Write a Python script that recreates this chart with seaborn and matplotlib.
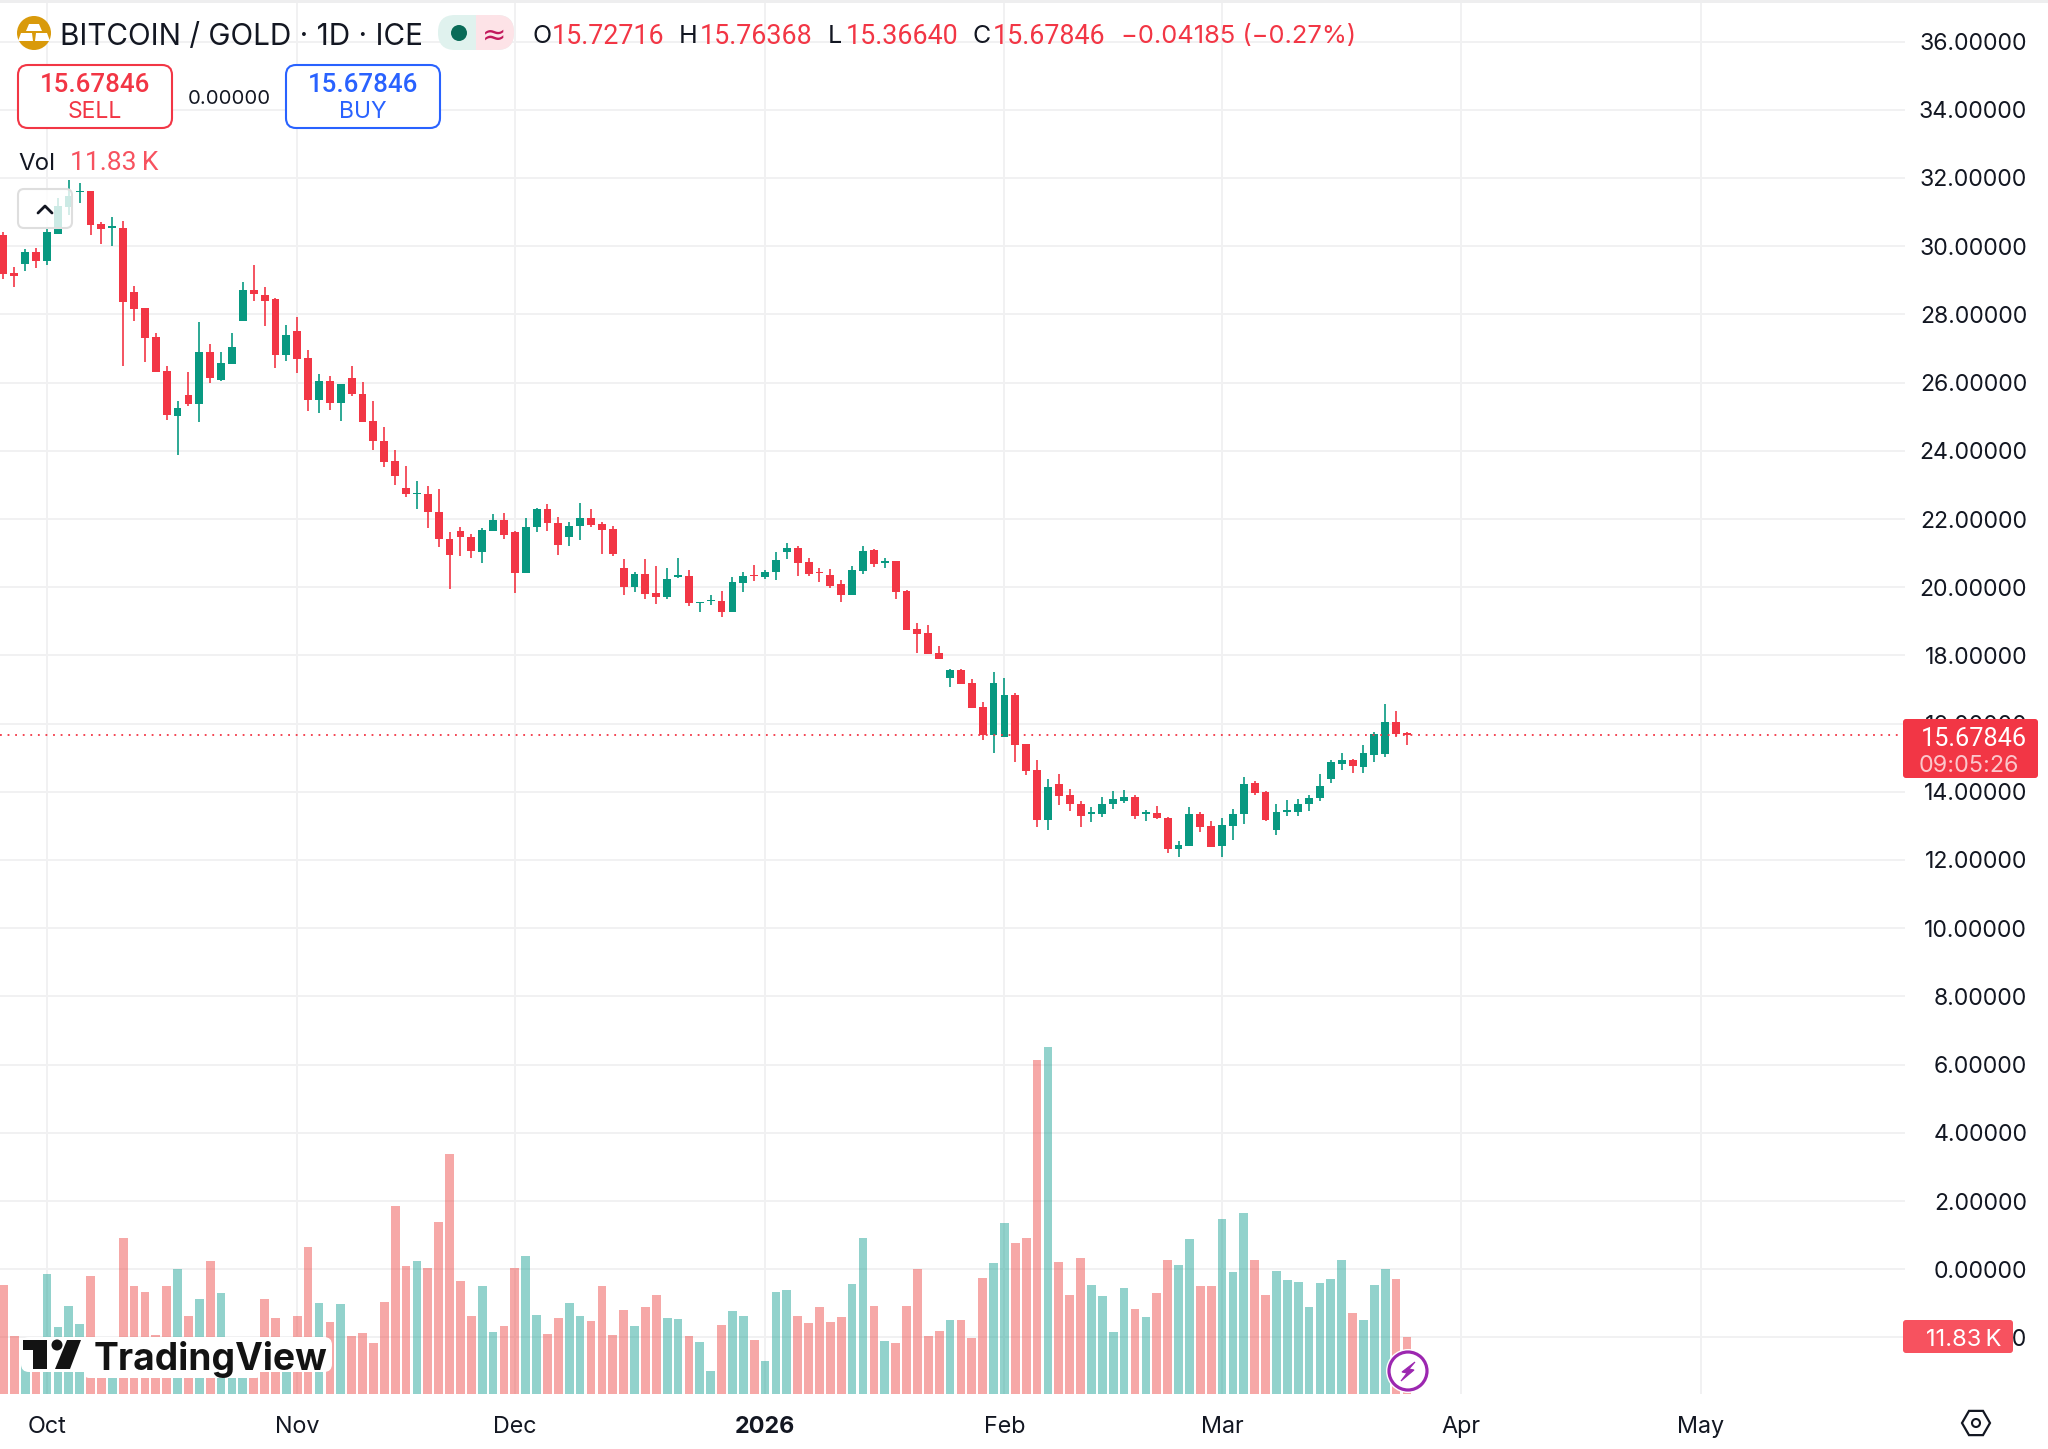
import numpy as np
import pandas as pd
import seaborn as sns
import matplotlib
matplotlib.use("Agg")
import matplotlib.pyplot as plt
from matplotlib.patches import Circle, FancyBboxPatch, Polygon, Rectangle, RegularPolygon
from matplotlib.lines import Line2D
from matplotlib.transforms import Affine2D

# ---- data (weekday sessions; session 0 = 1 Oct 2025) ----
first_session = -4
opens = [30.33,29.20,29.47,29.83,29.58,30.37,31.16,31.58,31.61,30.64,30.54,30.53,28.66,28.18,27.34,26.35,25.01,25.64,25.37,26.89,
26.08,26.54,27.81,28.72,28.58,28.44,26.82,27.51,26.71,25.49,26.05,25.41,26.13,25.68,24.88,24.29,23.70,22.90,22.72,22.73,
22.20,21.40,21.64,21.46,21.03,21.65,21.97,21.61,20.41,21.77,22.28,21.89,21.48,21.79,22.03,21.86,21.70,20.56,20.02,20.40,
19.83,19.72,20.31,20.34,19.54,19.59,19.60,19.28,20.13,20.37,20.29,20.45,21.03,21.16,20.73,20.46,20.36,20.09,19.76,20.48,
21.08,20.70,20.77,19.89,18.76,18.65,18.06,17.34,17.57,17.18,16.48,15.67,15.62,16.84,15.40,14.64,13.17,14.22,13.91,13.64,
13.35,13.35,13.64,13.74,13.85,13.36,13.37,13.24,12.33,12.42,13.35,13.00,12.42,13.01,13.35,14.25,13.99,12.87,13.41,13.41,
13.63,13.83,14.37,14.82,14.92,14.73,15.07,15.10,16.05,15.72716]
closes = [29.19,29.12,29.83,29.58,30.42,31.18,31.48,31.63,30.63,30.49,30.58,28.35,28.17,27.32,26.32,25.06,25.25,25.37,26.89,26.14,
26.57,27.03,28.71,28.59,28.39,26.82,27.40,26.70,25.49,26.05,25.41,25.96,25.67,24.85,24.28,23.68,23.26,22.72,22.76,22.20,
21.40,20.95,21.46,21.06,21.67,21.97,21.54,20.41,21.77,22.28,21.88,21.23,21.80,22.02,21.82,21.69,20.97,20.02,20.40,19.81,
19.72,20.23,20.37,19.53,19.58,19.63,19.28,20.14,20.34,20.33,20.46,20.80,21.15,20.72,20.40,20.41,20.04,19.76,20.50,21.07,
20.69,20.77,19.87,18.74,18.64,18.04,17.90,17.57,17.16,16.45,15.67,17.18,16.84,15.38,14.62,13.17,14.15,13.89,13.64,13.29,
13.40,13.65,13.79,13.85,13.29,13.41,13.24,12.32,12.44,13.34,12.98,12.39,13.03,13.36,14.24,13.96,13.17,13.40,13.46,13.64,
13.82,14.16,14.86,14.92,14.76,15.15,15.69,16.05,15.69,15.67846]
highs = [30.41,29.40,29.91,29.94,30.50,31.40,31.94,31.86,31.63,30.70,30.85,30.75,28.83,28.18,27.45,26.49,25.45,26.32,27.79,27.14,
26.91,27.45,28.94,29.46,28.79,28.47,27.68,27.93,26.95,26.26,26.18,25.96,26.49,26.01,25.47,24.69,24.02,23.55,23.11,22.97,
22.88,21.63,21.76,21.55,21.73,22.14,22.17,21.64,22.04,22.31,22.43,22.06,21.92,22.46,22.28,21.92,21.79,20.82,20.45,20.82,
20.62,20.56,20.87,20.49,19.58,19.76,19.89,20.31,20.45,20.65,20.49,21.02,21.30,21.21,20.85,20.57,20.53,20.20,20.62,21.20,
21.13,20.85,20.77,19.92,18.96,18.88,18.28,17.60,17.60,17.30,16.64,17.51,17.33,16.89,15.40,14.93,14.38,14.52,14.07,13.74,
13.56,13.84,14.01,14.04,13.90,13.46,13.59,13.26,12.56,13.54,13.40,13.13,13.22,13.49,14.44,14.31,14.02,13.65,13.76,13.79,
13.90,14.52,14.93,15.15,14.96,15.37,15.75,16.57,16.36,15.76368]
lows = [29.05,28.81,29.27,29.35,29.46,30.37,30.91,31.28,30.34,30.06,30.00,26.50,27.80,26.61,26.30,24.90,23.88,25.30,24.84,26.00,
26.06,26.54,27.81,28.39,27.66,26.42,26.64,26.27,25.18,25.10,25.21,24.87,25.61,24.84,24.02,23.52,23.01,22.65,22.28,21.74,
21.17,19.94,20.92,20.87,20.72,21.65,21.42,19.84,20.41,21.62,21.65,20.94,21.22,21.39,21.76,20.97,20.92,19.78,19.86,19.66,
19.50,19.66,20.27,19.45,19.28,19.47,19.14,19.28,19.86,20.18,20.23,20.21,20.83,20.32,20.34,20.15,19.98,19.58,19.76,20.40,
20.59,20.57,19.66,18.74,18.08,18.04,17.90,17.08,17.16,16.45,15.52,15.13,15.62,14.87,14.50,12.96,12.88,13.60,13.44,12.96,
13.12,13.27,13.51,13.68,13.21,13.15,13.21,12.21,12.10,12.42,12.83,12.39,12.10,12.59,13.05,13.91,13.14,12.72,13.29,13.29,
13.44,13.74,14.27,14.64,14.55,14.56,14.87,15.01,15.60,15.36640]
volumes = [22.4,12.0,8.05,8.0,24.8,13.8,18.2,14.4,24.4,8.2,8.0,32.3,22.2,21.0,12.2,22.2,25.9,16.0,19.6,27.5,
20.8,8.0,8.3,9.0,19.6,15.6,11.6,16.2,30.3,18.8,14.8,18.6,12.0,12.6,10.5,19.0,38.8,26.5,27.5,26.1,
35.5,49.5,23.3,16.0,22.2,12.8,14.0,26.1,28.5,16.4,12.4,15.6,18.8,16.2,15.0,22.2,12.2,17.3,14.0,18.0,
20.4,15.6,15.4,12.0,10.7,4.7,14.2,17.1,16.0,11.1,6.9,21.0,21.5,16.0,14.6,18.0,14.8,15.8,22.7,32.3,
18.2,10.9,10.6,18.2,25.7,12.0,13.0,15.2,15.2,11.6,23.9,27.1,35.2,31.1,32.3,68.9,71.6,27.3,20.4,28.1,
22.5,20.2,12.8,21.9,17.5,15.8,20.8,27.7,26.7,31.9,22.3,22.2,36.1,25.1,37.3,27.7,20.4,25.3,23.5,23.1,
18.0,22.9,23.7,27.7,16.8,15.2,22.4,25.9,23.7,11.83]
month_sessions = [0, 23, 43, 66, 88, 108, 130, 152]
month_labels = ["Oct", "Nov", "Dec", "2026", "Feb", "Mar", "Apr", "May"]
price_ticks = list(range(-2, 38, 2))
last_price = 15.67846

UP, DOWN = "#089981", "#F23645"
VOL_UP, VOL_DOWN = "#26A69A", "#EF5350"
GRID = "#F1F1F2"
INK = "#131722"

sns.set_theme(style="white")
plt.rcParams["font.family"] = ["Inter", "DejaVu Sans"]
NUM = ["Roboto", "DejaVu Sans"]

W, H = 2048, 1449
fig = plt.figure(figsize=(W / 100, H / 100), dpi=100, facecolor="white")
px = Affine2D().scale(1 / W, -1 / H).translate(0, 1) + fig.transFigure

df = pd.DataFrame({"open": opens, "high": highs, "low": lows, "close": closes, "volume": volumes})
df["session"] = np.arange(first_session, first_session + len(df))
df["direction"] = np.where(df["close"] >= df["open"], "up", "down")

pane = [0, (H - 1394) / H, 1905 / W, 1394 / H]
xlim = (-47 / 10.88, (1905 - 47) / 10.88)

# volume pane
axv = fig.add_axes(pane, zorder=1)
axv.patch.set_alpha(0)
sns.barplot(data=df, x="session", y="volume", hue="direction", native_scale=True, dodge=False,
            palette={"up": VOL_UP, "down": VOL_DOWN}, width=0.8, errorbar=None, saturation=1,
            alpha=0.5, linewidth=0, legend=False, ax=axv)
axv.set_xlim(*xlim)
axv.set_ylim(0, 1394 * 0.2064)
axv.axis("off")

# price pane
ax = fig.add_axes(pane, zorder=0)
ax.set_xlim(*xlim)
ax.set_ylim(32 - (1394 - 178) / 34.1, 32 + 178 / 34.1)
for d, c in (("up", UP), ("down", DOWN)):
    s = df[df["direction"] == d]
    ax.vlines(s["session"], s["low"], s["high"], color=c, lw=1.2, zorder=3)
    ax.bar(s["session"], (s["close"] - s["open"]).abs(), bottom=s[["open", "close"]].min(axis=1),
           width=0.72, color=c, linewidth=0, zorder=4)
ax.axhline(last_price, color=DOWN, lw=1.3, ls=(0, (1, 3.2)), zorder=5)

ax.set_yticks(price_ticks)
ax.set_yticklabels([f"{v:.5f}".replace("-", "\u2212") for v in price_ticks], ha="right", va="center_baseline")
ax.yaxis.tick_right()
ax.tick_params(axis="y", length=0, pad=88, labelsize=16.6, labelcolor=INK)
ax.set_xticks(month_sessions)
ax.set_xticklabels(month_labels)
ax.tick_params(axis="x", length=0, pad=15.5, labelsize=16.8, labelcolor=INK)
for lab in ax.get_xticklabels():
    if lab.get_text() == "2026":
        lab.set_fontweight("bold")
ax.grid(True, color=GRID, lw=1.4)
ax.set_axisbelow(True)
for sp in ax.spines.values():
    sp.set_visible(False)
ax.set_xlabel("")
ax.set_ylabel("")


def rect(x0, y0, x1, y1, r=0, fc="white", ec="none", lw=0, z=5):
    p = FancyBboxPatch((x0, y0), x1 - x0, y1 - y0, boxstyle=f"round,pad=0,rounding_size={r}",
                       fc=fc, ec=ec, lw=lw, transform=px, zorder=z)
    fig.add_artist(p)
    return p


def label(x, y, s, size, color=INK, ha="left", weight="normal", **kw):
    return fig.text(x, y, s, transform=px, fontsize=size, color=color, ha=ha, va="center_baseline",
                    fontweight=weight, zorder=8, **kw)


# top edge
fig.add_artist(Rectangle((0, 0), W, 2.5, fc="#EEEEEF", ec="none", transform=px, zorder=5))

# header
fig.add_artist(Circle((34, 33), 17, fc="#D99A0B", ec="none", transform=px, zorder=6))
for pts in ([(29, 24), (39, 24), (42, 31), (26, 31)], [(21, 33), (32, 33), (33, 41), (18, 41)],
            [(36, 33), (47, 33), (50, 41), (35, 41)]):
    fig.add_artist(Polygon(pts, fc="white", ec="none", transform=px, zorder=7))
label(60, 34, "BITCOIN / GOLD \u00b7 1D \u00b7 ICE", 21.35)

rect(438, 15, 514, 50, r=17, fc="#E0F2EE")
rect(476, 15, 514, 50, r=17, fc="#FDE3E7", z=6)
fig.add_artist(Rectangle((476, 15), 14, 35, fc="#FDE3E7", ec="none", transform=px, zorder=6))
fig.add_artist(Circle((459, 33), 8, fc="#0A6B58", ec="none", transform=px, zorder=7))
label(494, 33, "\u2248", 21, color="#C2185B", ha="center", family="DejaVu Sans")

for x, s, c, f, sz in ((532, "O", INK, None, 18), (552, "15.72716", DOWN, NUM, 19.4),
                       (679, "H", INK, None, 18), (700, "15.76368", DOWN, NUM, 19.4),
                       (828, "L", INK, None, 18), (846, "15.36640", DOWN, NUM, 19.4),
                       (972, "C", INK, None, 18), (993, "15.67846", DOWN, NUM, 19.4),
                       (1121, "\u22120.04185 (\u22120.27%)", DOWN, None, 18.3)):
    label(x, 34, s, sz, color=c, family=f) if f else label(x, 34, s, sz, color=c)

rect(18, 65, 172, 128, r=10, fc="white", ec=DOWN, lw=1.5)
rect(286, 65, 440, 128, r=10, fc="white", ec="#2962FF", lw=1.5)
label(95, 83, "15.67846", 18.6, color=DOWN, ha="center", weight="medium", family=NUM)
label(95, 110, "SELL", 16.5, color=DOWN, ha="center")
label(229, 97, "0.00000", 14.6, ha="center")
label(363, 83, "15.67846", 18.6, color="#2962FF", ha="center", weight="medium", family=NUM)
label(363, 110, "BUY", 16.5, color="#2962FF", ha="center")

label(18, 161, "Vol", 17.3)
label(70, 161, "11.83\u2009K", 19, color="#F7525F", family=NUM)

# collapse button
rect(18, 189, 72, 228, r=6, fc=(1, 1, 1, 0.8), ec="#DEDEDE", lw=1.5)
fig.add_artist(Line2D([38, 45, 52], [213, 206, 213], color=INK, lw=2, transform=px, zorder=7))

# price and volume tags
rect(1903, 719, 2038, 778, r=3, fc=DOWN)
label(2027, 736, "15.67846", 18.2, color="white", ha="right", family=NUM)
label(2019, 763, "09:05:26", 16.8, color="#FBC6CB", ha="right")
rect(1903, 1320, 2013, 1353, r=3, fc="#F7525F")
label(2002, 1337, "11.83\u2009K", 17, color="white", ha="right")

# settings icon
fig.add_artist(RegularPolygon((1976, 1423), 6, radius=14, orientation=np.pi / 6, fc="white",
                              ec=INK, lw=1.6, transform=px, zorder=6))
fig.add_artist(Circle((1976, 1423), 4, fc="white", ec=INK, lw=1.5, transform=px, zorder=7))

# lightning badge
fig.add_artist(Circle((1408, 1371), 22, fc="white", ec="none", transform=px, zorder=6))
fig.add_artist(Circle((1408, 1371), 19, fc="white", ec="#9C27B0", lw=2.3, transform=px, zorder=7))
fig.add_artist(Polygon([(1415, 1362), (1402, 1372), (1407, 1373), (1401, 1381), (1414, 1370), (1409, 1369)],
                       fc="#9C27B0", ec="#9C27B0", lw=0.8, transform=px, zorder=8))

# TradingView mark
rect(21, 1337, 332, 1372, r=8, fc="white", z=5)
rect(85, 1370, 260, 1378, r=4, fc="white", z=5)
for pts in ([(23, 1340), (47, 1340), (47, 1369), (33, 1369), (33, 1350), (23, 1350)],
            [(67, 1340), (81, 1340), (70, 1369), (55, 1369)]):
    fig.add_artist(Polygon(pts, fc="#131313", ec="none", transform=px, zorder=7))
fig.add_artist(Circle((57, 1345), 5.5, fc="#131313", ec="none", transform=px, zorder=7))
label(94, 1355, "TradingView", 26.8, color="#131313", weight="bold")

fig.savefig("out.png", dpi=100, facecolor="white")
